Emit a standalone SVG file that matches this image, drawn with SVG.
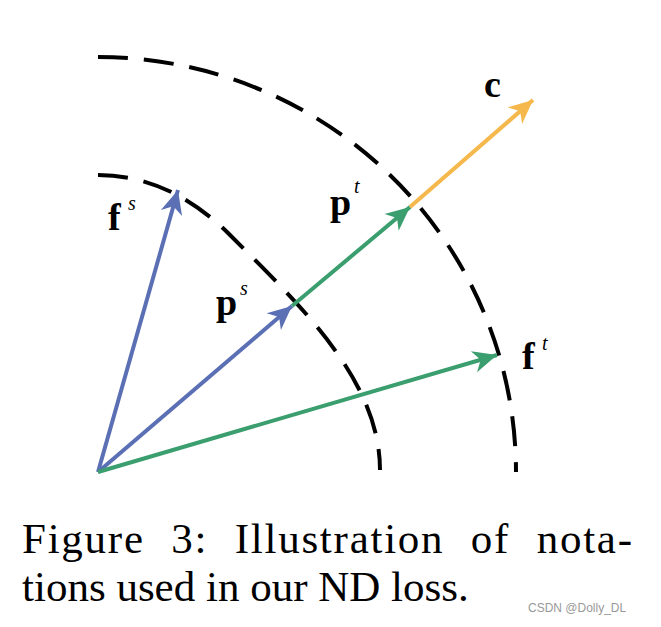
<svg xmlns="http://www.w3.org/2000/svg" width="661" height="627" viewBox="0 0 661 627">
<style>
.arc{fill:none;stroke:#000;stroke-width:4;stroke-dasharray:30 16}
.v{fill:none;stroke-width:4}
.lb{font-family:"Liberation Serif",serif;font-weight:bold;font-size:38px}
.sup{font-family:"Liberation Serif",serif;font-style:italic;font-size:20px}
.cap{font-family:"Liberation Serif",serif;font-size:43px}
</style>
<defs>
<marker id="mb" markerWidth="34" markerHeight="24" refX="26" refY="12" orient="auto" markerUnits="userSpaceOnUse">
<path d="M2,1 L26,12 L2,23 L9,12 Z" fill="#5b6fb5"/></marker>
<marker id="mg" markerWidth="34" markerHeight="24" refX="26" refY="12" orient="auto" markerUnits="userSpaceOnUse">
<path d="M2,1 L26,12 L2,23 L9,12 Z" fill="#3a9e6e"/></marker>
<marker id="mo" markerWidth="34" markerHeight="24" refX="26" refY="12" orient="auto" markerUnits="userSpaceOnUse">
<path d="M2,1 L26,12 L2,23 L9,12 Z" fill="#f5b84c"/></marker>
</defs>
<g id="arcs">
<path class="arc" d="M98,175 Q170,175 230,235 C300,305 380,380 380,470"/>
<path class="arc" d="M98,57 A418,415 0 0 1 516,472"/>
</g>
<g id="connectors">
<line class="v" x1="98" y1="472" x2="178" y2="190" stroke="#5b6fb5" marker-end="url(#mb)"/>
<line class="v" x1="98" y1="472" x2="292" y2="306" stroke="#5b6fb5" marker-end="url(#mb)"/>
<line class="v" x1="292" y1="306" x2="410" y2="207" stroke="#3a9e6e" marker-end="url(#mg)"/>
<line class="v" x1="410" y1="207" x2="533" y2="100" stroke="#f5b84c" marker-end="url(#mo)"/>
<line class="v" x1="98" y1="472" x2="497" y2="355" stroke="#3a9e6e" marker-end="url(#mg)"/>
</g>
<g id="labels">
<text class="lb" x="108" y="230">f</text><text class="sup" x="128" y="210">s</text>
<text class="lb" x="216" y="315">p</text><text class="sup" x="240" y="295">s</text>
<text class="lb" x="330" y="215">p</text><text class="sup" x="354" y="193">t</text>
<text class="lb" x="484" y="97">c</text>
<text class="lb" x="522" y="369">f</text><text class="sup" x="542" y="350">t</text>
</g>
<g id="caption">
<text class="cap" x="22" y="553" textLength="610" lengthAdjust="spacing" word-spacing="14">Figure 3:  Illustration of nota-</text>
<text class="cap" x="22" y="601">tions used in our ND loss.</text>
</g>
<text x="528" y="612" font-family="Liberation Sans,sans-serif" font-size="12" fill="#999">CSDN @Dolly_DL</text>
</svg>
